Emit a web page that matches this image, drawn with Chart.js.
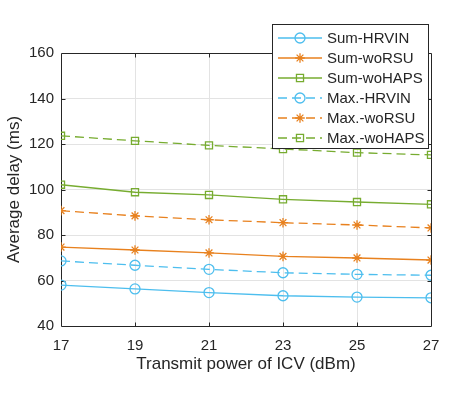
<!DOCTYPE html>
<html>
<head>
<meta charset="utf-8">
<title>Average delay vs transmit power</title>
<script src="https://cdn.jsdelivr.net/npm/chart.js@4/dist/chart.umd.min.js"></script>
<style>
  html, body { margin: 0; padding: 0; background: #fff; }
  #wrap { width: 474px; height: 397px; }
</style>
</head>
<body>
<div id="wrap"><canvas id="chart" width="474" height="397"></canvas></div>
<script>
'use strict';

// Transmit power of ICV (dBm)
var powers = [17, 19, 21, 23, 25, 27];

// Average delay (ms)
var sumHRVIN  = [58.0, 56.3, 54.7, 53.3, 52.7, 52.4];
var sumWoRSU  = [74.7, 73.4, 72.1, 70.6, 69.9, 69.0];
var sumWoHAPS = [102.1, 98.8, 97.6, 95.7, 94.5, 93.5];
var maxHRVIN  = [68.6, 66.7, 64.9, 63.4, 62.7, 62.3];
var maxWoRSU  = [90.7, 88.4, 86.7, 85.4, 84.4, 83.1];
var maxWoHAPS = [123.6, 121.4, 119.4, 117.8, 116.2, 115.2];

var yTicks = [40, 60, 80, 100, 120, 140, 160];

var BLUE = '#4DBEEE';
var ORANGE = '#E8811E';
var GREEN = '#77AC30';
var AXIS = '#262626';
var FONT = '"Liberation Sans", Arial, sans-serif';

function points(values) {
  return values.map(function(v, i) {
    return { x: powers[i], y: v };
  });
}

function series(label, values, color, style, dashed) {
  return {
    label: label,
    data: points(values),
    borderColor: color,
    backgroundColor: 'rgba(0,0,0,0)',
    borderWidth: 1.3,
    borderDash: dashed ? [9, 5] : [],
    pointStyle: style,
    pointRadius: style === 'star' ? 4.8 : 5,
    pointBorderWidth: 1.3,
    pointBorderColor: color,
    pointBackgroundColor: 'rgba(0,0,0,0)',
    tension: 0
  };
}

// Draws a marker the way the legend needs it (same shapes as the points).
function drawMarker(ctx, style, x, y, r) {
  ctx.beginPath();
  if (style === 'circle') {
    ctx.arc(x, y, r, 0, Math.PI * 2);
  } else if (style === 'rect') {
    var s = r * Math.SQRT1_2;
    ctx.rect(x - s, y - s, 2 * s, 2 * s);
  } else if (style === 'star') {
    var d = r * Math.SQRT1_2;
    ctx.moveTo(x - r, y); ctx.lineTo(x + r, y);
    ctx.moveTo(x, y - r); ctx.lineTo(x, y + r);
    ctx.moveTo(x - d, y - d); ctx.lineTo(x + d, y + d);
    ctx.moveTo(x - d, y + d); ctx.lineTo(x + d, y - d);
  }
  ctx.stroke();
}

// Box border on top/right plus inward ticks on all four sides.
var boxPlugin = {
  id: 'box',
  beforeDatasetsDraw: function(chart) {
    var ctx = chart.ctx;
    var a = chart.chartArea;
    var xs = chart.scales.x;
    var ys = chart.scales.y;
    var L = Math.round(a.left) + 0.5, R = Math.round(a.right) + 0.5;
    var T = Math.round(a.top) + 0.5, B = Math.round(a.bottom) + 0.5;
    ctx.save();
    ctx.strokeStyle = AXIS;
    ctx.lineWidth = 1;
    ctx.beginPath();
    ctx.rect(L, T, R - L, B - T);
    powers.forEach(function(p) {
      if (p === 17 || p === 27) return;
      var px = Math.round(xs.getPixelForValue(p)) + 0.5;
      ctx.moveTo(px, B); ctx.lineTo(px, B - 4);
      ctx.moveTo(px, T); ctx.lineTo(px, T + 4);
    });
    yTicks.forEach(function(t) {
      if (t === 40 || t === 160) return;
      var py = Math.round(ys.getPixelForValue(t)) + 0.5;
      ctx.moveTo(L, py); ctx.lineTo(L + 4, py);
      ctx.moveTo(R, py); ctx.lineTo(R - 4, py);
    });
    ctx.stroke();
    ctx.restore();
  }
};

var legendPlugin = {
  id: 'boxLegend',
  afterDraw: function(chart) {
    var ctx = chart.ctx;
    var left = 272.5, top = 24.5, w = 156, h = 124;
    ctx.save();
    ctx.fillStyle = '#fff';
    ctx.fillRect(left, top, w, h);
    ctx.strokeStyle = AXIS;
    ctx.lineWidth = 1;
    ctx.strokeRect(left, top, w, h);

    chart.data.datasets.forEach(function(ds, i) {
      var y = 38 + i * 20;
      ctx.strokeStyle = ds.borderColor;
      ctx.lineWidth = 1.3;
      ctx.setLineDash(ds.borderDash);
      ctx.beginPath();
      ctx.moveTo(278, y);
      ctx.lineTo(322, y);
      ctx.stroke();
      ctx.setLineDash([]);
      drawMarker(ctx, ds.pointStyle, 300, y, ds.pointRadius);

      ctx.fillStyle = AXIS;
      ctx.font = '15px ' + FONT;
      ctx.textAlign = 'left';
      ctx.textBaseline = 'middle';
      ctx.fillText(ds.label, 327, y + 1);
    });
    ctx.restore();
  }
};

var chart = new Chart(document.getElementById('chart'), {
  type: 'line',
  data: {
    datasets: [
      series('Sum-HRVIN', sumHRVIN, BLUE, 'circle', false),
      series('Sum-woRSU', sumWoRSU, ORANGE, 'star', false),
      series('Sum-woHAPS', sumWoHAPS, GREEN, 'rect', false),
      series('Max.-HRVIN', maxHRVIN, BLUE, 'circle', true),
      series('Max.-woRSU', maxWoRSU, ORANGE, 'star', true),
      series('Max.-woHAPS', maxWoHAPS, GREEN, 'rect', true)
    ]
  },
  options: {
    responsive: false,
    animation: false,
    devicePixelRatio: 1,
    layout: { padding: { left: 0, top: 53, right: 43, bottom: 0 } },
    plugins: {
      legend: { display: false },
      tooltip: { enabled: false }
    },
    scales: {
      x: {
        type: 'linear',
        min: 17,
        max: 27,
        afterBuildTicks: function(scale) {
          scale.ticks = powers.map(function(p) { return { value: p }; });
        },
        afterFit: function(scale) { scale.height = 71; },
        grid: { color: '#e3e3e3', lineWidth: 1, drawTicks: false },
        border: { display: false },
        ticks: {
          color: AXIS,
          padding: 11,
          maxRotation: 0,
          font: { family: FONT, size: 15 }
        },
        title: {
          display: true,
          text: 'Transmit power of ICV (dBm)',
          color: AXIS,
          font: { family: FONT, size: 17 },
          padding: { top: 0, bottom: 22 }
        }
      },
      y: {
        min: 40,
        max: 160,
        afterBuildTicks: function(scale) {
          scale.ticks = yTicks.map(function(t) { return { value: t }; });
        },
        afterFit: function(scale) { scale.width = 61; },
        grid: { color: '#e3e3e3', lineWidth: 1, drawTicks: false },
        border: { display: false },
        ticks: {
          color: AXIS,
          padding: 7,
          font: { family: FONT, size: 15 }
        },
        title: {
          display: true,
          text: 'Average delay (ms)',
          color: AXIS,
          font: { family: FONT, size: 17 },
          padding: { top: 4, bottom: 0 }
        }
      }
    }
  },
  plugins: [boxPlugin, legendPlugin]
});
</script>
</body>
</html>
